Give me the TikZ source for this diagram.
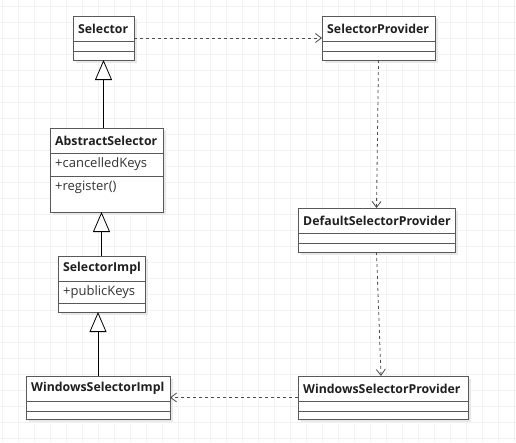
\documentclass[tikz,border=0pt]{standalone}
\usepackage{fontspec}
\setmainfont{Open Sans}
\usetikzlibrary{arrows.meta}
\newcommand{\umlcls}[8]{%
  \fill[black!9] (#2+3,#3+3) rectangle (#4+3,#5+3);
  \node[box, minimum width=#4-#2, minimum height=#5-#3] (#1) at (#2,#3) {};
  \draw[sepline] (#2,#6) -- (#4,#6);
  \draw[sepline] (#2,#7) -- (#4,#7);
  \node[title] (#1-title) at (#2+5,{(#3+#6)/2}) {#8};
}
\begin{document}
\begin{tikzpicture}[x=1pt,y=-1pt,
  box/.style={draw=black!65, line width=0.9pt, fill=white, inner sep=0pt, outer sep=0pt, anchor=north west},
  sepline/.style={draw=black!65, line width=0.9pt},
  title/.style={font=\bfseries\fontsize{12.3}{14}\selectfont, anchor=west, inner sep=0pt, text=black!88},
  member/.style={font=\fontsize{13}{15}\selectfont, anchor=west, inner sep=0pt, text=black!80},
  gridline/.style={draw=black!5, line width=0.6pt},
  dep/.style={draw=black!70, line width=0.8pt, dash pattern=on 3pt off 3pt, -{Straight Barb[length=6pt, width=9pt]}},
  inh/.style={draw=black, line width=0.8pt, -{Triangle[open, length=20pt, width=17pt, fill=white]}}
]
\useasboundingbox (0,0) rectangle (516,442);
\fill[white] (0,0) rectangle (516,442);
\foreach \x in {2,18,...,514} \draw[gridline] (\x,0) -- (\x,442);
\foreach \y in {6,22,...,438} \draw[gridline] (0,\y) -- (516,\y);

% classes
\umlcls{sel}{73}{16}{134}{60}{41}{51}{Selector}
\umlcls{prov}{322}{16}{435}{60}{41}{51}{SelectorProvider}
\umlcls{abs}{50}{128}{163}{212}{153}{176}{AbstractSelector}
\node[member] (abs-attr) at (55,164.5) {+cancelledKeys};
\node[member] (abs-meth) at (55,187) {+register()};
\umlcls{impl}{58}{256}{145}{312}{281}{303}{SelectorImpl}
\node[member] (impl-attr) at (63,292) {+publicKeys};
\umlcls{wsi}{26}{376}{170}{419}{401}{411}{WindowsSelectorImpl}
\umlcls{def}{298}{208}{455}{252}{233}{243}{DefaultSelectorProvider}
\umlcls{wsp}{298}{376}{468}{419}{401}{411}{WindowsSelectorProvider}

% dependencies
\draw[dep] (sel.east) -- (prov.west);
\draw[dep] (prov.south) -- (def.north);
\draw[dep] (def.south) -- ([xshift=-2pt]wsp.north);
\draw[dep] (wsp.west) -- (wsi.east);

% generalisations
\draw[inh] (abs.north -| sel.south) -- (sel.south);
\draw[inh] (impl.north) -- (impl.north |- abs.south);
\draw[inh] (wsi.north) -- (wsi.north |- impl.south);
\end{tikzpicture}
\end{document}
